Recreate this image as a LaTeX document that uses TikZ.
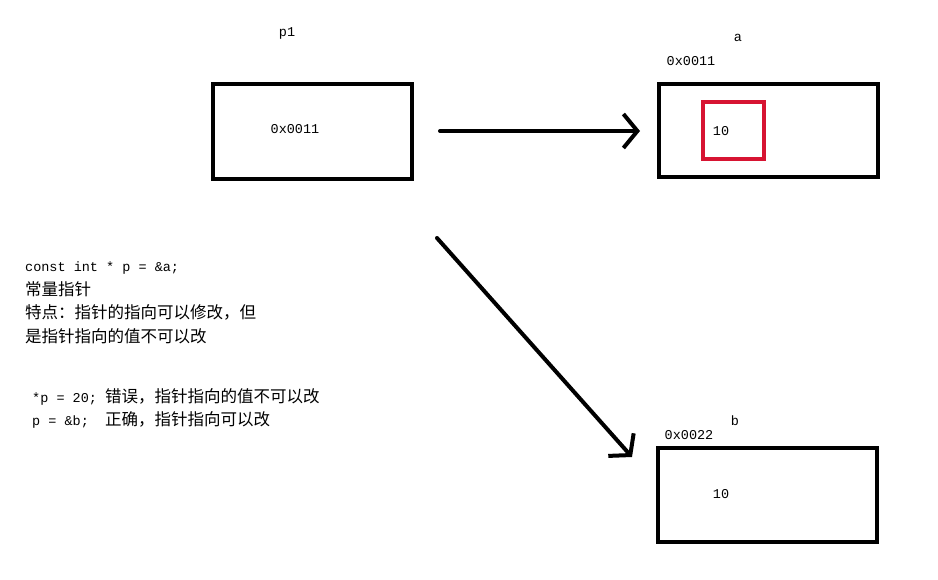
\documentclass[tikz,border=0pt]{standalone}
\usetikzlibrary{arrows.meta}
\usepackage{fontspec}
\setmonofont{Liberation Mono}
\newfontfamily\cjk{Noto Sans CJK SC}
\begin{document}
\begin{tikzpicture}[x=1pt,y=-1pt,
  box/.style={draw=black,line width=4pt},
  redbox/.style={draw={rgb,255:red,215;green,20;blue,50},line width=4pt},
  lbl/.style={font=\ttfamily\fontsize{13.5}{15}\selectfont,inner sep=0pt},
  cn/.style={font=\cjk\fontsize{16.5}{18}\selectfont,inner sep=0pt,anchor=west},
  arr/.style={line width=4pt,line cap=round,-{Straight Barb[length=14pt,width=34pt,line width=4pt]}}]
\useasboundingbox (0,0) rectangle (938,580);
\draw[box] (213,84) rectangle (412,179);
\coordinate (p1e) at (440,131);
\draw[box] (659,84) rectangle (878,177);
\draw[redbox] (703,102) rectangle (764,159);
\draw[box] (658,448) rectangle (877,542);
\coordinate (aw) at (640,131);
\coordinate (s2) at (437,238);
\coordinate (bw) at (632,457);
\draw[arr] (p1e) -- (aw);
\draw[arr] (s2) -- (bw);
\node[lbl] (l1) at (287,33) {p1};
\node[lbl] (l2) at (738,38) {a};
\node[lbl] (l3) at (691,61) {0x0011};
\node[lbl] (l4) at (295,129) {0x0011};
\node[lbl] (l5) at (721,131) {10};
\node[lbl] (l6) at (689,435) {0x0022};
\node[lbl] (l7) at (735,421) {b};
\node[lbl] (l8) at (721,494) {10};
\node[lbl,anchor=west] (t1) at (25,268) {const int * p = \&a;};
\node[cn] (t2) at (25,289) {常量指针};
\node[cn] (t3) at (25,312) {特点：指针的指向可以修改，但};
\node[cn] (t4) at (25,336) {是指针指向的值不可以改};
\node[cn] (t5) at (32,397) {\ttfamily\fontsize{13.5}{15}\selectfont *p = 20;\ \cjk\fontsize{16.5}{18}\selectfont 错误，指针指向的值不可以改};
\node[cn] (t6) at (32,420) {\ttfamily\fontsize{13.5}{15}\selectfont p = \&b;\ \ \cjk\fontsize{16.5}{18}\selectfont 正确，指针指向可以改};
\end{tikzpicture}
\end{document}
